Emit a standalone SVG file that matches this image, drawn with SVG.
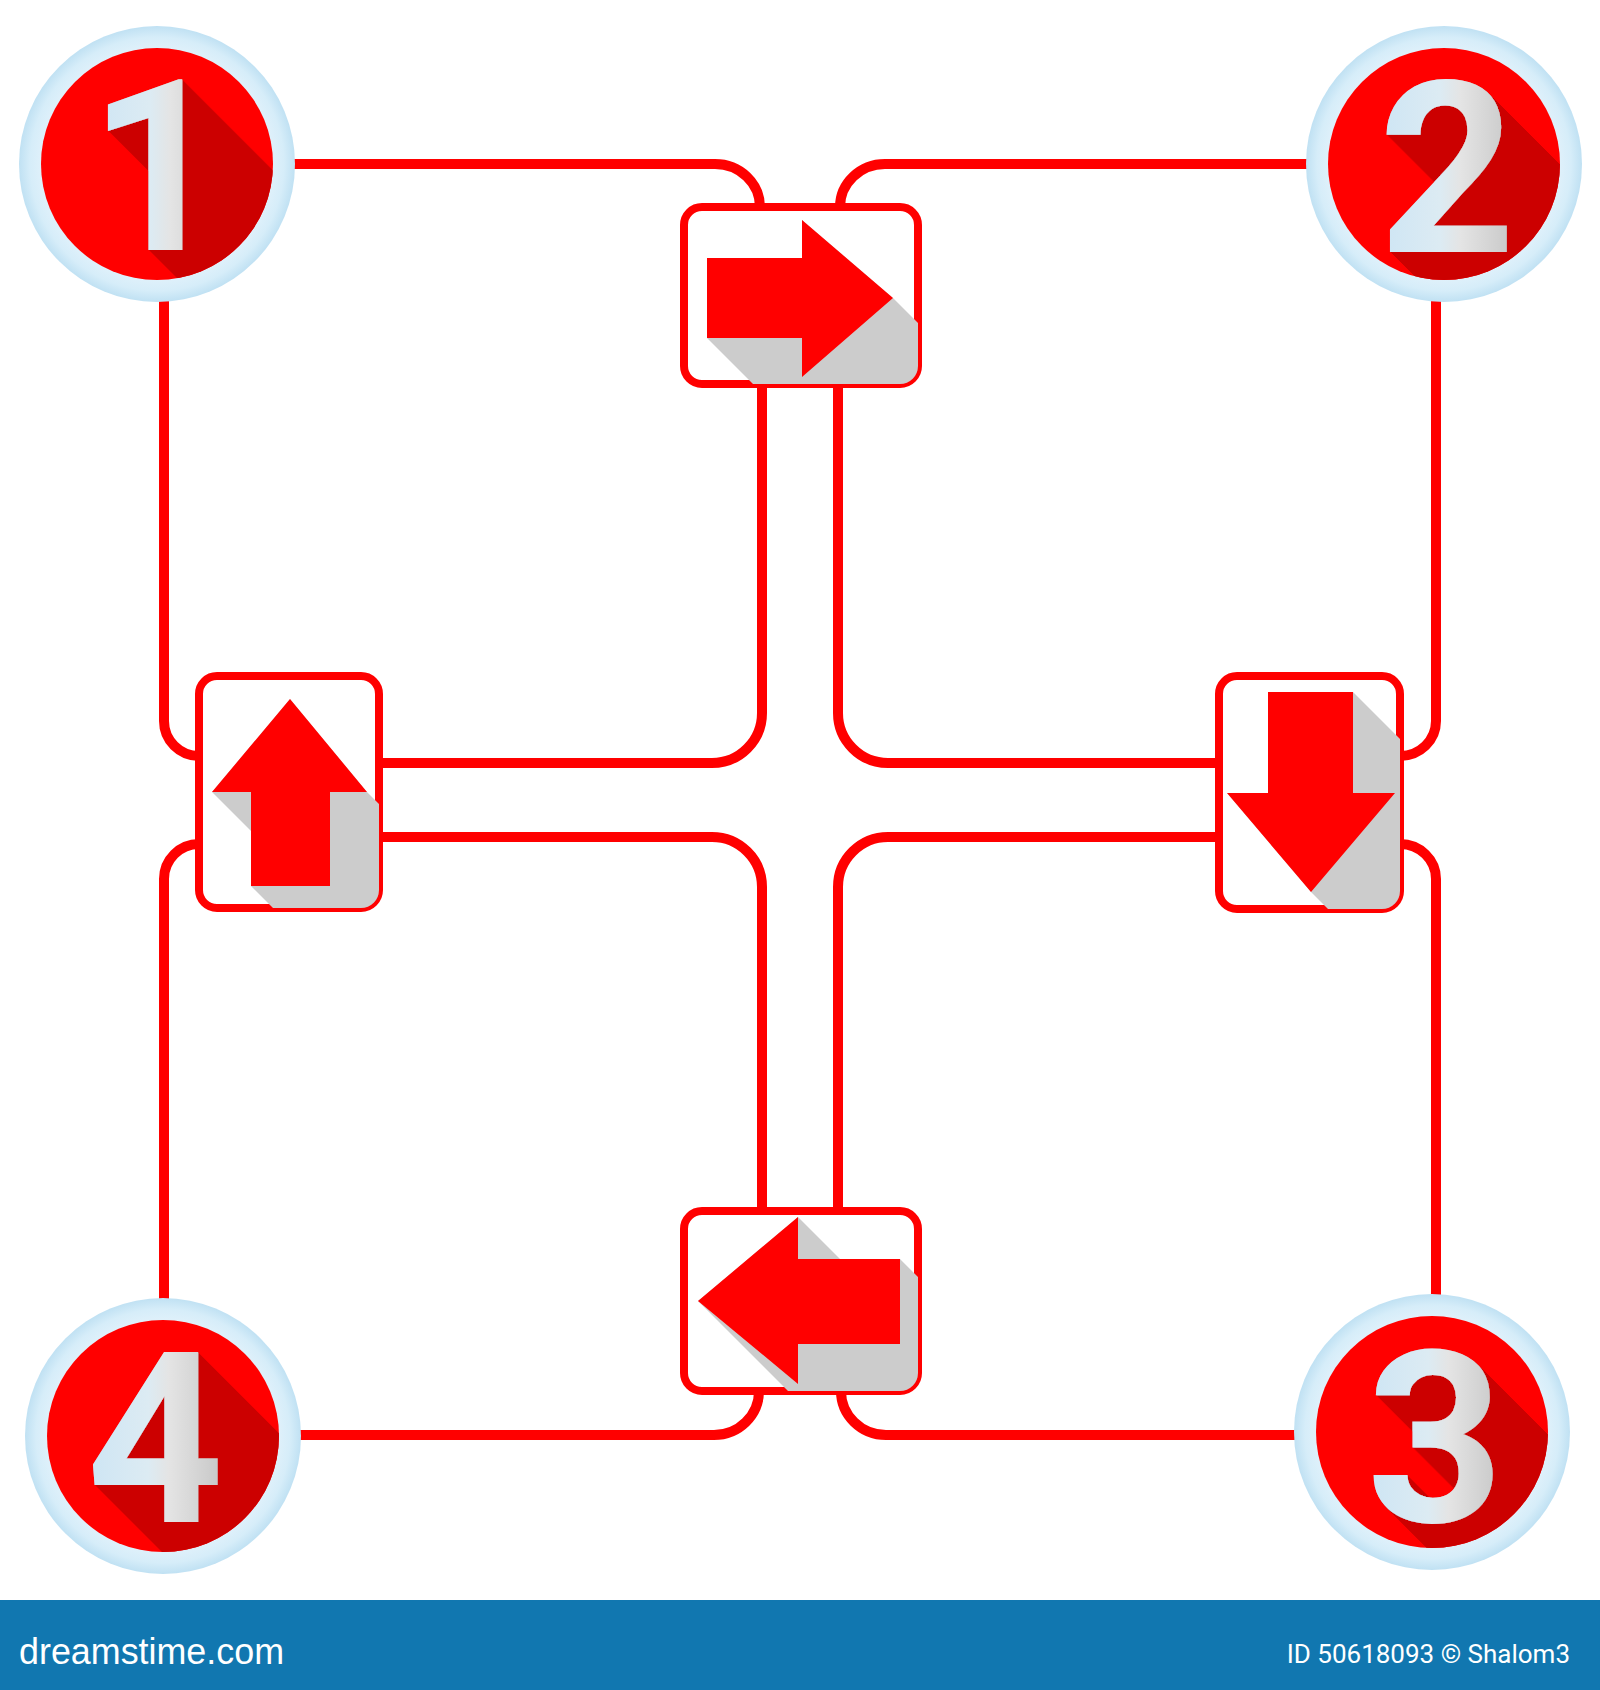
<svg xmlns="http://www.w3.org/2000/svg" width="1600" height="1690" viewBox="0 0 1600 1690">
<style>
.conn{fill:none;stroke:#ff0000;stroke-width:10}
.box{fill:#ffffff;stroke:#ff0000;stroke-width:8}
.arrow{fill:#ff0000}
.shadow{fill:#cccccc}
.ring{fill:url(#ringGrad)}
.disc{fill:#ff0000}
.digit{font-family:Roboto,"Liberation Sans",sans-serif;font-weight:700;font-size:240px;fill:url(#digitGrad);text-anchor:middle}
.foot{fill:#ffffff}
</style>
<defs>
<radialGradient id="ringGrad" cx="0.5" cy="0.5" r="0.5">
<stop offset="0.8" stop-color="#e3f2fb"/>
<stop offset="0.92" stop-color="#d6edf9"/>
<stop offset="1" stop-color="#c0e1f3"/>
</radialGradient>
<linearGradient id="digitGrad" x1="0" y1="0" x2="1" y2="0">
<stop offset="0" stop-color="#cde5f4"/>
<stop offset="0.45" stop-color="#dcebf3"/>
<stop offset="0.6" stop-color="#e4e4e4"/>
<stop offset="1" stop-color="#c6c6c6"/>
</linearGradient>
<filter id="longShadow" x="-0.2" y="-0.2" width="4" height="4">
<feOffset in="SourceAlpha" dx="1" dy="1" result="a1"/>
<feMerge result="m1"><feMergeNode in="SourceAlpha"/><feMergeNode in="a1"/></feMerge>
<feOffset in="m1" dx="2" dy="2" result="a2"/>
<feMerge result="m2"><feMergeNode in="m1"/><feMergeNode in="a2"/></feMerge>
<feOffset in="m2" dx="4" dy="4" result="a3"/>
<feMerge result="m3"><feMergeNode in="m2"/><feMergeNode in="a3"/></feMerge>
<feOffset in="m3" dx="8" dy="8" result="a4"/>
<feMerge result="m4"><feMergeNode in="m3"/><feMergeNode in="a4"/></feMerge>
<feOffset in="m4" dx="16" dy="16" result="a5"/>
<feMerge result="m5"><feMergeNode in="m4"/><feMergeNode in="a5"/></feMerge>
<feOffset in="m5" dx="32" dy="32" result="a6"/>
<feMerge result="m6"><feMergeNode in="m5"/><feMergeNode in="a6"/></feMerge>
<feOffset in="m6" dx="64" dy="64" result="a7"/>
<feMerge result="m7"><feMergeNode in="m6"/><feMergeNode in="a7"/></feMerge>
<feOffset in="m7" dx="128" dy="128" result="a8"/>
<feMerge result="m8"><feMergeNode in="m7"/><feMergeNode in="a8"/></feMerge>
<feFlood flood-color="#cc0000" result="fl"/>
<feComposite in="fl" in2="m8" operator="in" result="sh"/>
<feMerge><feMergeNode in="sh"/><feMergeNode in="SourceGraphic"/></feMerge>
</filter>
<clipPath id="clipC1"><circle cx="157" cy="164" r="116"/></clipPath>
<clipPath id="clipC2"><circle cx="1444" cy="164" r="116"/></clipPath>
<clipPath id="clipC3"><circle cx="1432" cy="1432" r="116"/></clipPath>
<clipPath id="clipC4"><circle cx="163" cy="1436" r="116"/></clipPath>
<clipPath id="clipTop"><rect x="684" y="207" width="234" height="177" rx="18"/></clipPath>
<clipPath id="clipBottom"><rect x="684" y="1211" width="234" height="180" rx="18"/></clipPath>
<clipPath id="clipLeft"><rect x="199" y="676" width="180" height="232" rx="18"/></clipPath>
<clipPath id="clipRight"><rect x="1219" y="676" width="181" height="233" rx="18"/></clipPath>
</defs>
<rect x="0" y="0" width="1600" height="1690" fill="#ffffff"/>

<g id="connectors">
<path class="conn" d="M 290 164 H 715 A 45 43 0 0 1 760 207"/>
<path class="conn" d="M 762 384 V 713 A 50 50 0 0 1 712 763 H 379"/>
<path class="conn" d="M 164 290 V 721 A 35 35 0 0 0 199 756"/>
<path class="conn" d="M 1310 164 H 885 A 45 43 0 0 0 840 207"/>
<path class="conn" d="M 838 384 V 713 A 50 50 0 0 0 888 763 H 1219"/>
<path class="conn" d="M 1436 300 V 721 A 36 35 0 0 1 1400 756"/>
<path class="conn" d="M 1400 844 A 36 35 0 0 1 1436 879 V 1300"/>
<path class="conn" d="M 1219 837 H 888 A 50 50 0 0 0 838 887 V 1211"/>
<path class="conn" d="M 841 1391 A 45 44 0 0 0 886 1435 H 1300"/>
<path class="conn" d="M 379 837 H 712 A 50 50 0 0 1 762 887 V 1211"/>
<path class="conn" d="M 199 844 A 35 35 0 0 0 164 879 V 1300"/>
<path class="conn" d="M 759 1391 A 45 44 0 0 1 714 1435 H 300"/>
</g>

<g id="box-right-arrow">
<rect class="box" x="684" y="207" width="234" height="177" rx="18"/>
<polygon class="shadow" clip-path="url(#clipTop)" points="893,298 1193,598 1007,638 707,338 707,258 802,258 802,220"/>
<polygon class="arrow" points="707,258 802,258 802,220 893,298 802,377 802,338 707,338"/>
</g>

<g id="box-down-arrow">
<rect class="box" x="1219" y="676" width="181" height="233" rx="18"/>
<polygon class="shadow" clip-path="url(#clipRight)" points="1353,692 1653,992 1611,1192 1311,892 1227,793 1268,793 1268,692"/>
<polygon class="arrow" points="1268,692 1353,692 1353,793 1395,793 1311,892 1227,793 1268,793"/>
</g>

<g id="box-left-arrow">
<rect class="box" x="684" y="1211" width="234" height="180" rx="18"/>
<polygon class="shadow" clip-path="url(#clipBottom)" points="900,1259 1200,1559 998,1601 698,1301 798,1217 840,1259"/>
<polygon class="arrow" points="698,1301 798,1217 798,1259 900,1259 900,1344 798,1344 798,1384"/>
</g>

<g id="box-up-arrow">
<rect class="box" x="199" y="676" width="180" height="232" rx="18"/>
<polygon class="shadow" clip-path="url(#clipLeft)" points="367,792 667,1092 551,1186 251,886 251,831 212,792 290,699"/>
<polygon class="arrow" points="290,699 367,792 330,792 330,886 251,886 251,792 212,792"/>
</g>

<g id="node-1">
<circle class="ring" cx="157" cy="164" r="138"/>
<circle class="disc" cx="157" cy="164" r="116"/>
<g clip-path="url(#clipC1)"><text class="digit" x="157" y="250" filter="url(#longShadow)">1</text></g>
</g>
<g id="node-2">
<circle class="ring" cx="1444" cy="164" r="138"/>
<circle class="disc" cx="1444" cy="164" r="116"/>
<g clip-path="url(#clipC2)"><text class="digit" x="1447" y="252" filter="url(#longShadow)">2</text></g>
</g>
<g id="node-3">
<circle class="ring" cx="1432" cy="1432" r="138"/>
<circle class="disc" cx="1432" cy="1432" r="116"/>
<g clip-path="url(#clipC3)"><text class="digit" x="1435" y="1522" filter="url(#longShadow)">3</text></g>
</g>
<g id="node-4">
<circle class="ring" cx="163" cy="1436" r="138"/>
<circle class="disc" cx="163" cy="1436" r="116"/>
<g clip-path="url(#clipC4)"><text class="digit" x="155" y="1522" filter="url(#longShadow)">4</text></g>
</g>

<g id="footer">
<rect x="0" y="1600" width="1600" height="90" fill="#1177b0"/>
<text class="foot" x="19" y="1664" font-family="'Liberation Sans',sans-serif" font-size="36" textLength="265" lengthAdjust="spacingAndGlyphs">dreamstime.com</text>
<text class="foot" x="1570" y="1663" font-family="Roboto,'Liberation Sans',sans-serif" font-size="26" text-anchor="end">ID 50618093 © Shalom3</text>
</g>
</svg>
